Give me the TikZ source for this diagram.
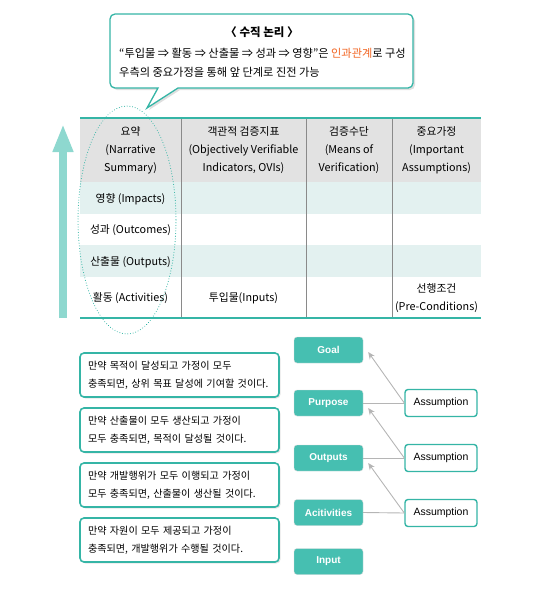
\documentclass[tikz,border=0pt]{standalone}
\usepackage{fontspec}
\setmainfont{Noto Sans CJK KR}
\newfontfamily\arialfont{Liberation Sans}
\usetikzlibrary{arrows.meta,shadows}
\definecolor{tealline}{HTML}{35B5A6}
\definecolor{tealfill}{HTML}{46BFB1}
\definecolor{arrowteal}{HTML}{8ED8CF}
\definecolor{rowteal}{HTML}{E3F1F0}
\definecolor{headgray}{HTML}{E2E2E2}
\definecolor{colline}{HTML}{8A8A8A}
\definecolor{linkgray}{HTML}{B5B5B5}
\definecolor{keyorange}{HTML}{F26522}
\begin{document}
\begin{tikzpicture}[x=1pt,y=-1pt,
                    font=\fontsize{10.8}{18}\selectfont,
                    cell/.style={align=center, inner sep=0pt},
                    note/.style={draw=tealline, line width=1.6pt, rounded corners=4pt, fill=white,
                                 minimum width=199pt, minimum height=44pt, text width=183pt,
                                 inner xsep=8pt, align=left, font=\fontsize{10.1}{18}\selectfont,
                                 drop shadow={opacity=0.2, shadow xshift=1.5pt, shadow yshift=-1.5pt}},
                    stage/.style={fill=tealfill, draw=black!15, rounded corners=3pt, minimum width=69pt,
                                  minimum height=26pt, inner sep=0pt, text=white,
                                  font=\arialfont\bfseries\fontsize{10}{11}\selectfont},
                    assume/.style={draw=tealline, line width=1.4pt, fill=white, rounded corners=3pt,
                                   minimum width=72pt, minimum height=27pt, inner sep=0pt,
                                   font=\arialfont\fontsize{10.5}{11}\selectfont},
                    link/.style={linkgray, line width=0.9pt},
                    linkarrow/.style={link, -{Stealth[length=7pt, width=6pt]}}
                ]
\useasboundingbox (0,0) rectangle (544,595);

% callout
\draw[draw=tealline, line width=1.3pt, fill=white,
      drop shadow={opacity=0.25, shadow xshift=2pt, shadow yshift=-2pt}]
     (147,108) -- (158,88) -- (140,88) [rounded corners=5pt] -- (110,88) -- (110,14)
     -- (413,14) -- (413,88) -- (300,88) [sharp corners] -- (178,88) -- cycle;
\node[font=\bfseries\fontsize{11.5}{13}\selectfont] (calltitle) at (262,32) {〈 수직 논리 〉};
\node[anchor=west, inner sep=0pt, font=\fontsize{11.2}{13}\selectfont] (callone) at (119,53)
     {“투입물 ⇒ 활동 ⇒ 산출물 ⇒ 성과 ⇒ 영향”은 \textcolor{keyorange}{인과관계}로 구성};
\node[anchor=west, inner sep=0pt, font=\fontsize{11.2}{13}\selectfont] (calltwo) at (119,72)
     {우측의 중요가정을 통해 앞 단계로 진전 가능};

% table
\fill[headgray] (80,118) rectangle (481,182);
\fill[rowteal] (80,182) rectangle (481,214);
\fill[rowteal] (80,245) rectangle (481,277);
\foreach \cx in {181,306,392}
  \draw[colline, line width=0.7pt] (\cx,118) -- (\cx,318);
\draw[tealline, line width=1.3pt] (80,118) -- (481,118);
\draw[tealline, line width=1.3pt] (80,318) -- (481,318);

\node[cell] (hsum) at (130.5,150) {요약\\(Narrative\\Summary)};
\node[cell] (hovi) at (243.5,150) {객관적 검증지표\\(Objectively Verifiable\\Indicators, OVIs)};
\node[cell] (hmov) at (349,150) {검증수단\\(Means of\\Verification)};
\node[cell] (hasm) at (436.5,150) {중요가정\\(Important\\Assumptions)};

\node[cell] (rimp) at (130.5,199) {영향 (Impacts)};
\node[cell] (rout) at (130.5,230) {성과 (Outcomes)};
\node[cell] (rput) at (130.5,262) {산출물 (Outputs)};
\node[cell] (ract) at (130.5,298) {활동 (Activities)};
\node[cell] (rinp) at (243.5,298) {투입물(Inputs)};
\node[cell] (rpre) at (436.5,298) {선행조건\\(Pre-Conditions)};

% vertical logic
\draw[arrowteal, line width=8pt, -{Triangle[width=19pt, length=28pt]}] (63,318) -- (63,124);
\draw[tealline, line width=1pt, dash pattern=on 0.1pt off 2.6pt, line cap=round]
     (127,220) ellipse [x radius=49, y radius=114];

% if-then notes
\node[note] (ifgoal) at (179.5,375) {만약 목적이 달성되고 가정이 모두\\충족되면, 상위 목표 달성에 기여할 것이다.};
\node[note] (ifpurp) at (179.5,430) {만약 산출물이 모두 생산되고 가정이\\모두 충족되면, 목적이 달성될 것이다.};
\node[note] (ifoutp) at (179.5,485) {만약 개발행위가 모두 이행되고 가정이\\모두 충족되면, 산출물이 생산될 것이다.};
\node[note] (ifactv) at (179.5,540) {만약 자원이 모두 제공되고 가정이\\충족되면, 개발행위가 수행될 것이다.};

% logframe ladder
\node[stage] (goal) at (328.5,350) {Goal};
\node[stage] (purpose) at (328.5,403) {Purpose};
\node[stage] (outputs) at (328.5,458) {Outputs};
\node[stage] (activ) at (328.5,512.5) {Acitivities};
\node[stage] (input) at (328.5,561.5) {Input};

\node[assume] (asmone) at (441,403) {Assumption};
\node[assume] (asmtwo) at (441,458) {Assumption};
\node[assume] (asmthree) at (441,513) {Assumption};

\draw[link] (purpose.east) -- (asmone.west);
\draw[link] (outputs.east) -- (asmtwo.west);
\draw[link] (activ.east) -- (asmthree.west);
\draw[linkarrow] (asmone.west) -- ([shift={(5,2)}]goal.east);
\draw[linkarrow] (asmtwo.west) -- ([shift={(5,5)}]purpose.east);
\draw[linkarrow] (asmthree.west) -- ([shift={(5,5)}]outputs.east);
\end{tikzpicture}
\end{document}
